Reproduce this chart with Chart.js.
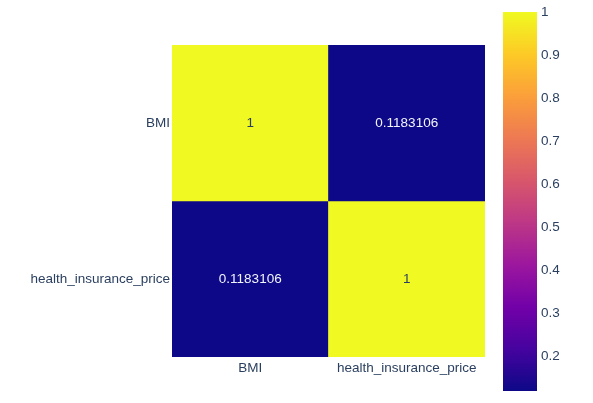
<!DOCTYPE html>
<html>
<head>
<meta charset="utf-8">
<script src="https://cdn.jsdelivr.net/npm/chart.js@4.4.0/dist/chart.umd.min.js"></script>
<style>
  body { margin: 0; background: #fff; }
  #wrap { position: relative; width: 593px; height: 403px; }
  #wrap canvas { position: absolute; left: 0; top: 0; }
</style>
</head>
<body>
<div id="wrap">
  <canvas id="heatmap" width="593" height="403"></canvas>
  <canvas id="colorbar" width="593" height="403"></canvas>
</div>
<script>
// correlation matrix, one array per row
const variables = ["BMI", "health_insurance_price"];
const rowBMI = [1, 0.1183106];
const rowPrice = [0.1183106, 1];
const cellText = [["1", "0.1183106"], ["0.1183106", "1"]];
const colorbarTicks = [0.2, 0.3, 0.4, 0.5, 0.6, 0.7, 0.8, 0.9, 1];

// plotly "plasma" colorscale
const plasma = ["#0d0887", "#46039f", "#7201a8", "#9c179e", "#bd3786",
  "#d8576b", "#ed7953", "#fb9f3a", "#fdca26", "#f0f921"];

const rows = [rowBMI, rowPrice];
const zMin = Math.min(...rows.flat());
const zMax = Math.max(...rows.flat());
const fontFamily = "'Liberation Sans', Arial, sans-serif";
const fontSize = 13.5;
const textColor = "#2a3f5f";

function hexToRgb(h) {
  return [parseInt(h.slice(1, 3), 16), parseInt(h.slice(3, 5), 16), parseInt(h.slice(5, 7), 16)];
}

function plasmaColor(v) {
  let t = (v - zMin) / (zMax - zMin);
  t = Math.max(0, Math.min(1, t));
  const pos = t * (plasma.length - 1);
  const i = Math.min(Math.floor(pos), plasma.length - 2);
  const f = pos - i;
  const a = hexToRgb(plasma[i]), b = hexToRgb(plasma[i + 1]);
  const c = a.map((x, k) => Math.round(x + (b[k] - x) * f));
  return `rgb(${c[0]}, ${c[1]}, ${c[2]})`;
}

// each row becomes a floating bar spanning [rowIndex, rowIndex + 1]
const datasets = rows.map((row, r) => ({
  label: variables[r],
  data: row.map(() => [r, r + 1]),
  backgroundColor: row.map((v) => plasmaColor(v)),
  borderWidth: 0,
  barPercentage: 1,
  categoryPercentage: 1,
  grouped: false,
}));

const cellLabels = {
  id: "cellLabels",
  afterDatasetsDraw(chart) {
    const ctx = chart.ctx;
    ctx.save();
    ctx.font = fontSize + "px " + fontFamily;
    ctx.textAlign = "center";
    ctx.textBaseline = "middle";
    chart.data.datasets.forEach((ds, r) => {
      chart.getDatasetMeta(r).data.forEach((bar, c) => {
        const v = rows[r][c];
        const t = (v - zMin) / (zMax - zMin);
        ctx.fillStyle = t > 0.5 ? textColor : "#f2f5fa";
        const cy = (bar.y + bar.base) / 2;
        ctx.fillText(cellText[r][c], bar.x, cy);
      });
    });
    ctx.restore();
  },
};

new Chart(document.getElementById("heatmap").getContext("2d"), {
  type: "bar",
  data: { labels: variables, datasets: datasets },
  options: {
    responsive: false,
    animation: false,
    layout: { padding: { top: 45, right: 108, left: 0, bottom: 0 } },
    plugins: { legend: { display: false }, tooltip: { enabled: false } },
    scales: {
      x: {
        grid: { display: false, drawTicks: false },
        border: { display: false },
        ticks: { color: textColor, font: { family: fontFamily, size: fontSize }, padding: 3, maxRotation: 0 },
        afterFit: (s) => { s.height = 46; },
      },
      y: {
        type: "linear",
        min: 0,
        max: 2,
        reverse: true,
        grid: { display: false, drawTicks: false },
        border: { display: false },
        afterBuildTicks: (s) => { s.ticks = variables.map((v, i) => ({ value: i + 0.5 })); },
        ticks: {
          color: textColor,
          font: { family: fontFamily, size: fontSize },
          padding: 2,
          callback: (value) => variables[Math.floor(value)],
        },
        afterFit: (s) => { s.width = 172; },
      },
    },
  },
  plugins: [cellLabels],
});

// colorbar: one floating bar from zMin to zMax filled with the colorscale
new Chart(document.getElementById("colorbar").getContext("2d"), {
  type: "bar",
  data: {
    labels: ["z"],
    datasets: [{
      data: [[zMin, zMax]],
      borderWidth: 0,
      barPercentage: 1,
      categoryPercentage: 1,
      backgroundColor: (context) => {
        const chart = context.chart;
        if (!chart.chartArea) return plasma[0];
        const y = chart.scales.y;
        const g = chart.ctx.createLinearGradient(0, y.getPixelForValue(zMin), 0, y.getPixelForValue(zMax));
        plasma.forEach((c, i) => g.addColorStop(i / (plasma.length - 1), c));
        return g;
      },
    }],
  },
  options: {
    responsive: false,
    animation: false,
    layout: { padding: { top: 10, right: 0, left: 503, bottom: 12 } },
    plugins: { legend: { display: false }, tooltip: { enabled: false } },
    scales: {
      x: { display: false },
      y: {
        position: "right",
        min: zMin,
        max: zMax,
        grid: { display: false, drawTicks: false },
        border: { display: false },
        afterBuildTicks: (s) => { s.ticks = colorbarTicks.map((v) => ({ value: v })); },
        ticks: {
          color: textColor,
          font: { family: fontFamily, size: fontSize },
          padding: 4,
          callback: (value) => String(value),
        },
        afterFit: (s) => { s.width = 56; },
      },
    },
  },
});
</script>
</body>
</html>
